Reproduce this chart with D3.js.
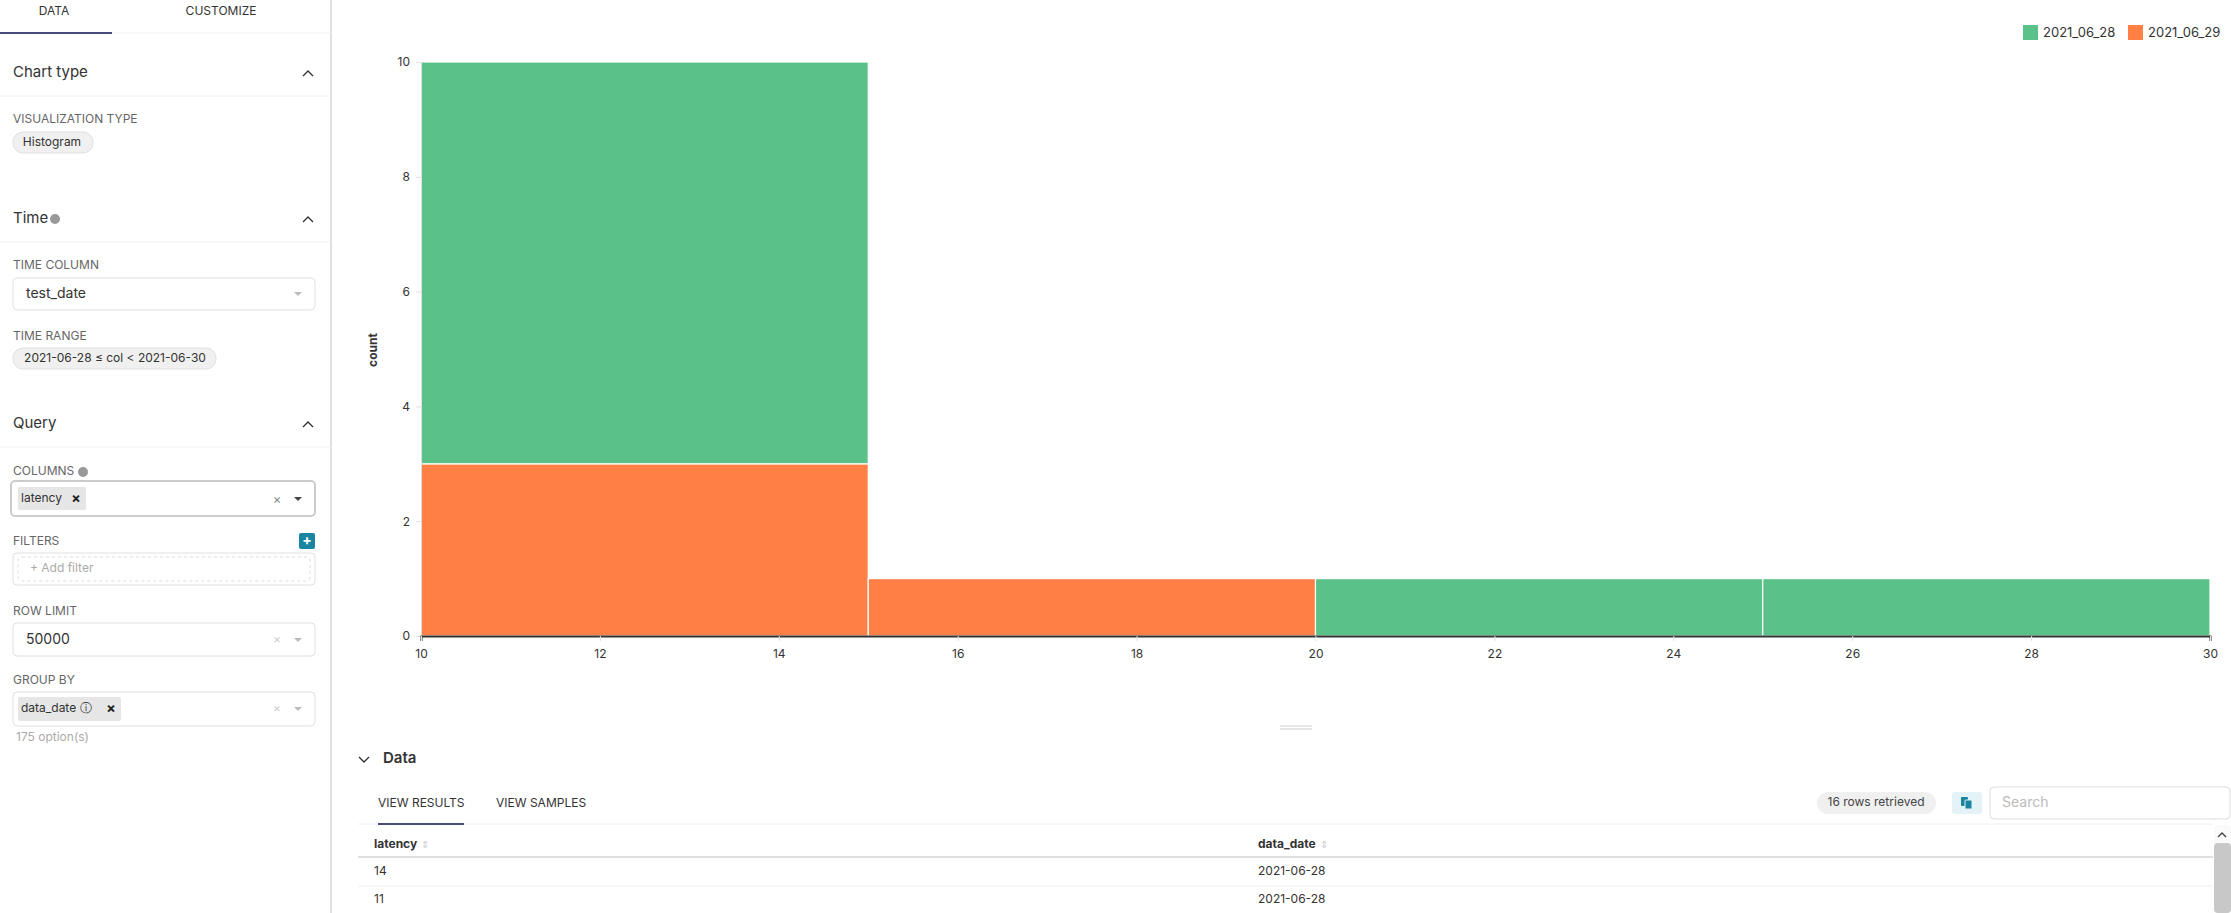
<!DOCTYPE html>
<html><head><meta charset="utf-8">
<script src="https://cdn.jsdelivr.net/npm/d3@7"></script>
<style>
body{margin:0;width:2231px;height:913px;overflow:hidden;font-family:Inter,"Noto Sans",sans-serif;background:#fff;color:#323232}
svg{position:absolute;left:0;top:0}
</style></head><body>
<svg id="c" width="2231" height="913"></svg>
<script>
const binEdges=[10,15,20,25,30];
const seriesNames=["2021_06_28","2021_06_29"];
const colors=["#5ac189","#ff7f44"];
const counts28=[7,0,1,1];
const counts29=[3,1,0,0];
const xTicks=[10,12,14,16,18,20,22,24,26,28,30];
const yTicks=[0,2,4,6,8,10];
const tableRows=[["14","2021-06-28"],["11","2021-06-28"]];

const svg=d3.select("#c");
const x=d3.scaleLinear().domain([10,30]).range([421,2210]);
const y=d3.scaleLinear().domain([0,10]).range([636,62]);
const g=svg.append("g");
// bars: stack 06_29 bottom, 06_28 on top
binEdges.slice(0,-1).forEach((b,i)=>{
  const e=binEdges[i+1];
  const segs=[[counts29[i],1],[counts28[i],0]];
  let base=0;
  segs.forEach(([v,s])=>{
    if(v>0){g.append("rect").attr("x",x(b)).attr("width",x(e)-x(b)).attr("y",y(base+v)).attr("height",y(base)-y(base+v)).attr("fill",colors[s]).attr("stroke","#fff").attr("stroke-width",1.2);}
    base+=v;
  });
});
// axes
const ya=svg.append("g").attr("transform","translate(421,0)").call(d3.axisLeft(y).tickValues(yTicks).tickSize(5).tickPadding(6));
ya.select(".domain").attr("stroke","#e0e0e0");
ya.selectAll(".tick line").attr("stroke","#e0e0e0");
ya.selectAll("text").attr("font-size",12).attr("fill","#333").attr("font-family","Inter,sans-serif");
const xa=svg.append("g").attr("transform","translate(0,636)").call(d3.axisBottom(x).tickValues(xTicks).tickSize(5).tickPadding(8));
xa.select(".domain").attr("stroke","#333").attr("stroke-width",2);
xa.selectAll(".tick line").attr("stroke","#e0e0e0");
xa.selectAll("text").attr("font-size",12).attr("fill","#333").attr("font-family","Inter,sans-serif");
svg.append("text").attr("transform","translate(377,350) rotate(-90)").attr("text-anchor","middle").attr("font-size",12).attr("font-weight","bold").attr("fill","#333").text("count");
// legend
const lx=[2023,2128];
seriesNames.forEach((n,i)=>{
  svg.append("rect").attr("x",lx[i]).attr("y",25).attr("width",15).attr("height",15).attr("fill",colors[i]);
  svg.append("text").attr("x",lx[i]+20).attr("y",37).attr("font-size",13).attr("fill","#333").text(n);
});

// ---- sidebar ----
const T=(t,xx,yy,o={})=>svg.append("text").attr("x",xx).attr("y",yy).attr("font-size",o.s||12).attr("fill",o.c||"#555").attr("font-weight",o.w||400).attr("text-anchor",o.a||"start").attr("dominant-baseline","middle").text(t);
const L=(x1,y1,x2,y2,c="#f0f0f0",w=1)=>svg.append("line").attr("x1",x1).attr("y1",y1).attr("x2",x2).attr("y2",y2).attr("stroke",c).attr("stroke-width",w);
const R=(xx,yy,w,h,o={})=>svg.append("rect").attr("x",xx).attr("y",yy).attr("width",w).attr("height",h).attr("rx",o.r||4).attr("fill",o.f||"#fff").attr("stroke",o.s||"#e0e0e0").attr("stroke-width",o.sw||1).attr("stroke-dasharray",o.d||null);
L(331,0,331,913,"#e0e0e0",2);
T("DATA",54,12,{a:"middle",c:"#333"});T("CUSTOMIZE",221,12,{a:"middle",c:"#333"});
L(0,33,331,33,"#f0f0f0");L(0,33,112,33,"#484c7d",2);
const chev=(cx,cy)=>svg.append("path").attr("d",`M${cx-5},${cy+3}L${cx},${cy-2}L${cx+5},${cy+3}`).attr("fill","none").attr("stroke","#333").attr("stroke-width",1.4);
T("Chart type",13,73,{s:15,c:"#333"});chev(308,73);L(0,96,331,96);
T("VISUALIZATION TYPE",13,120,{c:"#666"});
R(13,132,80,21,{r:10,f:"#f0f0f0"});T("Histogram",52,143,{a:"middle",c:"#333"});
T("Time",13,219,{s:15,c:"#333"});svg.append("circle").attr("cx",55).attr("cy",219).attr("r",5).attr("fill","#999");chev(308,219);L(0,242,331,242);
T("TIME COLUMN",13,266,{c:"#666"});R(13,278,302,32);T("test_date",26,294,{s:14,c:"#333"});
const caret=(cx,cy,c="#bbb")=>svg.append("path").attr("d",`M${cx-4},${cy-2}L${cx+4},${cy-2}L${cx},${cy+2}Z`).attr("fill",c);
caret(298,294);
T("TIME RANGE",13,337,{c:"#666"});R(13,348,203,21,{r:10,f:"#f0f0f0"});T("2021-06-28 ≤ col < 2021-06-30",115,359,{a:"middle",c:"#333"});
T("Query",13,424,{s:15,c:"#333"});chev(308,424);L(0,447,331,447);
T("COLUMNS",13,472,{c:"#666"});svg.append("circle").attr("cx",83).attr("cy",472).attr("r",5).attr("fill","#999");
R(11,481,304,35,{s:"#ccc",sw:2});R(18,487,68,23,{r:2,f:"#e6e6e6",s:"none"});T("latency",21,499,{c:"#333"});T("×",76,499,{c:"#222",w:700,s:14,a:"middle"});
T("×",277,500,{c:"#888",s:13,a:"middle"});caret(298,499,"#444");
T("FILTERS",13,542,{c:"#666"});R(299,533,16,16,{r:2,f:"#1a85a0",s:"none"});T("+",307,541,{c:"#fff",w:700,s:14,a:"middle"});
R(13,553,302,32);R(18,557,292,24,{d:"3,3",s:"#ddd"});T("+ Add filter",30,569,{c:"#aaa"});
T("ROW LIMIT",13,612,{c:"#666"});R(13,623,302,33);T("50000",26,640,{s:14,c:"#333"});T("×",277,640,{c:"#ccc",a:"middle"});caret(298,640);
T("GROUP BY",13,681,{c:"#666"});R(13,692,302,34);R(18,697,103,24,{r:2,f:"#e6e6e6",s:"none"});T("data_date ⓘ",21,709,{c:"#333"});T("×",111,709,{c:"#222",w:700,s:14,a:"middle"});
T("×",277,709,{c:"#ccc",a:"middle"});caret(298,709);
T("175 option(s)",16,738,{c:"#aaa"});

// ---- bottom data pane ----
L(1280,726,1312,726,"#ccc");L(1280,729,1312,729,"#ccc");
svg.append("path").attr("d","M359,757L364,762L369,757").attr("fill","none").attr("stroke","#333").attr("stroke-width",1.4);
T("Data",383,759,{s:15,c:"#333",w:600});
T("VIEW RESULTS",378,804,{c:"#333"});T("VIEW SAMPLES",496,804,{c:"#333"});
L(358,824,2213,824,"#f0f0f0");L(378,824,464,824,"#484c7d",2);
T("latency",374,845,{c:"#333",w:700});T("⇕",421,845,{c:"#ccc",s:10});
T("data_date",1258,845,{c:"#333",w:700});T("⇕",1320,845,{c:"#ccc",s:10});
L(358,857,2213,857,"#e0e0e0",2);
tableRows.forEach((r,i)=>{T(r[0],374,872+i*28,{c:"#333"});T(r[1],1258,872+i*28,{c:"#333"});L(358,886+i*28,2213,886+i*28,"#f0f0f0");});
R(1817,792,119,22,{r:11,f:"#f0f0f0",s:"none"});T("16 rows retrieved",1876,803,{a:"middle",c:"#444"});
R(1952,792,30,22,{r:3,f:"#e3f3f7",s:"none"});R(1961,797,7,9,{r:1,f:"#1a85a0",s:"none"});R(1965,800,7,9,{r:1,f:"#1a85a0",s:"#e3f3f7"});
R(1990,787,240,32,{s:"#ddd"});T("Search",2002,803,{c:"#bbb",s:14});
R(2214,825,17,88,{r:0,f:"#fafafa",s:"none"});R(2214,843,17,70,{r:0,f:"#c8c8c8",s:"none"});
svg.append("path").attr("d","M2218,837L2222,833L2226,837").attr("fill","none").attr("stroke","#444").attr("stroke-width",1.4);
</script></body></html>
